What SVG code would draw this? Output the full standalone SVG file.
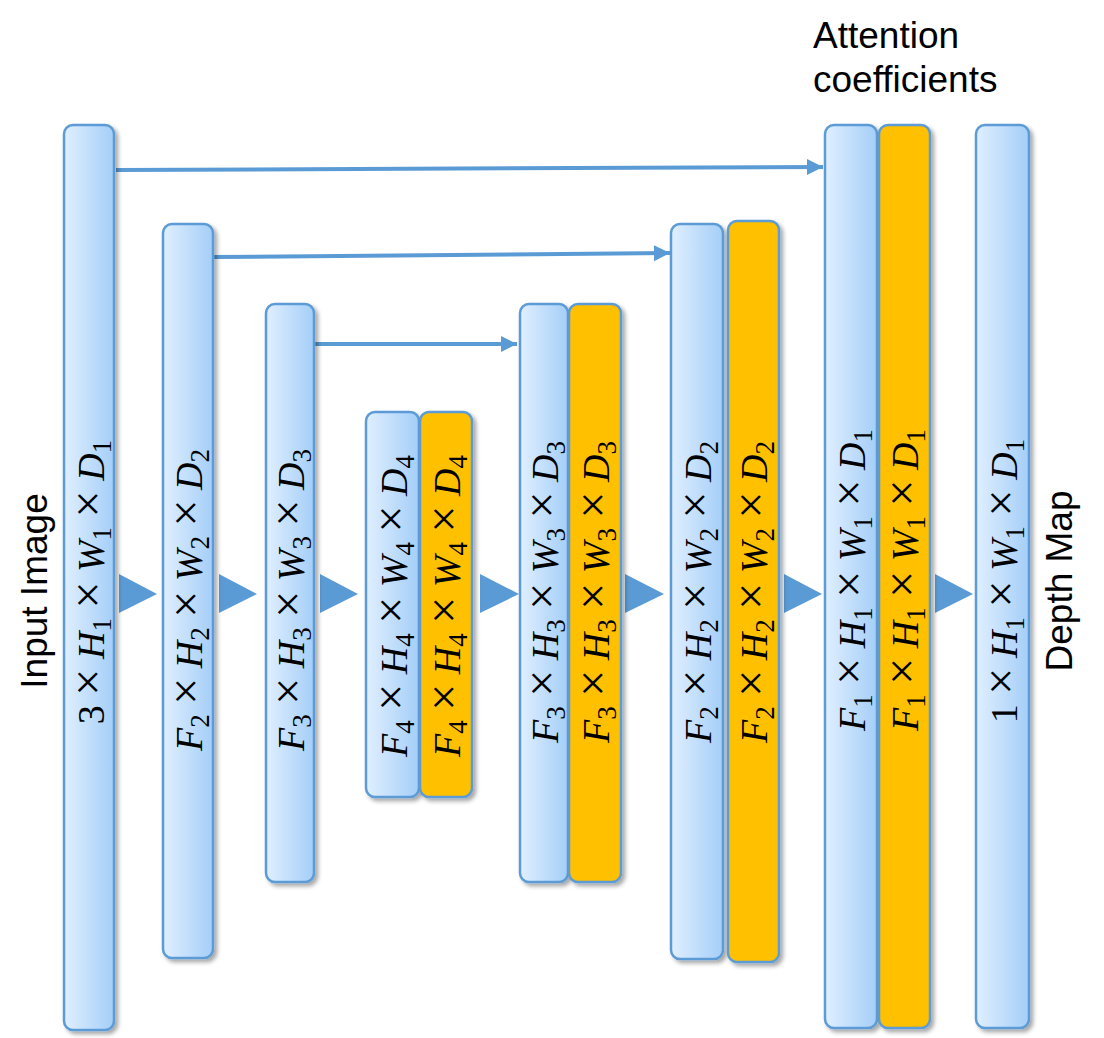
<svg xmlns="http://www.w3.org/2000/svg" width="1104" height="1038" viewBox="0 0 1104 1038">
<defs>
<linearGradient id="blueGrad" x1="0" y1="0" x2="1" y2="0">
<stop offset="0" stop-color="#e0efff"/>
<stop offset="1" stop-color="#a4cef8"/>
</linearGradient>
<filter id="shadow" x="-20%" y="-5%" width="150%" height="115%">
<feDropShadow dx="3" dy="3" stdDeviation="2" flood-color="#000" flood-opacity="0.35"/>
</filter>
<marker id="arrow" markerUnits="userSpaceOnUse" markerWidth="20" markerHeight="20" refX="16" refY="8" orient="auto">
<path d="M0,0 L16,8 L0,16 Z" fill="#5b9bd5"/>
</marker>
<style>
.blue{fill:url(#blueGrad);stroke:#5b9bd5;stroke-width:2.5;filter:url(#shadow)}
.orange{fill:#ffc000;stroke:#5b9bd5;stroke-width:2.5;filter:url(#shadow)}
.tri{fill:#5b9bd5}
.skip{stroke:#5b9bd5;stroke-width:4;fill:none}
.math{font-family:"Liberation Serif","Times New Roman",serif;font-size:38px;fill:#000}
.v{font-style:italic}
.s{font-size:27px}
.x{font-size:48px}
.lbl{font-family:"Liberation Sans",Arial,sans-serif;font-size:37px;fill:#000}
</style>
</defs>
<rect width="1104" height="1038" fill="#fff"/>

<g id="connectors">
<line class="skip" x1="116" y1="170" x2="823" y2="167" marker-end="url(#arrow)"/>
<line class="skip" x1="214" y1="257" x2="670" y2="253" marker-end="url(#arrow)"/>
<line class="skip" x1="314" y1="344" x2="517" y2="344" marker-end="url(#arrow)"/>
<polygon class="tri" points="119,574 157,594 119,613"/>
<polygon class="tri" points="219,574 257,594 219,613"/>
<polygon class="tri" points="320,574 358,594 320,613"/>
<polygon class="tri" points="480,574 519,594 480,613"/>
<polygon class="tri" points="625,574 664,594 625,613"/>
<polygon class="tri" points="784,574 822,594 784,613"/>
<polygon class="tri" points="935,574 973,594 935,613"/>
</g>

<g id="input-label">
<text class="lbl" transform="translate(47,591) rotate(-90)" text-anchor="middle">Input Image</text>
</g>

<g id="enc1">
<rect class="blue" x="64" y="125" width="50" height="905" rx="9"/>
<text class="math" transform="translate(104,582) rotate(-90)" text-anchor="middle">3 <tspan class="x">×</tspan> <tspan class="v">H</tspan><tspan class="s" dy="7">1</tspan><tspan dy="-7"> </tspan><tspan class="x">×</tspan> <tspan class="v">W</tspan><tspan class="s" dy="7">1</tspan><tspan dy="-7"> </tspan><tspan class="x">×</tspan> <tspan class="v">D</tspan><tspan class="s" dy="7">1</tspan></text>
</g>

<g id="enc2">
<rect class="blue" x="163" y="224" width="50" height="734" rx="9"/>
<text class="math" transform="translate(202,600) rotate(-90)" text-anchor="middle"><tspan class="v">F</tspan><tspan class="s" dy="7">2</tspan><tspan dy="-7"> </tspan><tspan class="x">×</tspan> <tspan class="v">H</tspan><tspan class="s" dy="7">2</tspan><tspan dy="-7"> </tspan><tspan class="x">×</tspan> <tspan class="v">W</tspan><tspan class="s" dy="7">2</tspan><tspan dy="-7"> </tspan><tspan class="x">×</tspan> <tspan class="v">D</tspan><tspan class="s" dy="7">2</tspan></text>
</g>

<g id="enc3">
<rect class="blue" x="266" y="304" width="48" height="578" rx="9"/>
<text class="math" transform="translate(304,600) rotate(-90)" text-anchor="middle"><tspan class="v">F</tspan><tspan class="s" dy="7">3</tspan><tspan dy="-7"> </tspan><tspan class="x">×</tspan> <tspan class="v">H</tspan><tspan class="s" dy="7">3</tspan><tspan dy="-7"> </tspan><tspan class="x">×</tspan> <tspan class="v">W</tspan><tspan class="s" dy="7">3</tspan><tspan dy="-7"> </tspan><tspan class="x">×</tspan> <tspan class="v">D</tspan><tspan class="s" dy="7">3</tspan></text>
</g>

<g id="bottleneck">
<rect class="blue" x="366" y="412" width="53" height="385" rx="9"/>
<rect class="orange" x="420" y="412" width="52" height="385" rx="9"/>
<text class="math" transform="translate(407,606) rotate(-90)" text-anchor="middle"><tspan class="v">F</tspan><tspan class="s" dy="7">4</tspan><tspan dy="-7"> </tspan><tspan class="x">×</tspan> <tspan class="v">H</tspan><tspan class="s" dy="7">4</tspan><tspan dy="-7"> </tspan><tspan class="x">×</tspan> <tspan class="v">W</tspan><tspan class="s" dy="7">4</tspan><tspan dy="-7"> </tspan><tspan class="x">×</tspan> <tspan class="v">D</tspan><tspan class="s" dy="7">4</tspan></text>
<text class="math" transform="translate(460,606) rotate(-90)" text-anchor="middle"><tspan class="v">F</tspan><tspan class="s" dy="7">4</tspan><tspan dy="-7"> </tspan><tspan class="x">×</tspan> <tspan class="v">H</tspan><tspan class="s" dy="7">4</tspan><tspan dy="-7"> </tspan><tspan class="x">×</tspan> <tspan class="v">W</tspan><tspan class="s" dy="7">4</tspan><tspan dy="-7"> </tspan><tspan class="x">×</tspan> <tspan class="v">D</tspan><tspan class="s" dy="7">4</tspan></text>
</g>

<g id="dec3">
<rect class="blue" x="520" y="304" width="48" height="578" rx="9"/>
<rect class="orange" x="569" y="304" width="52" height="578" rx="9"/>
<text class="math" transform="translate(558,592) rotate(-90)" text-anchor="middle"><tspan class="v">F</tspan><tspan class="s" dy="7">3</tspan><tspan dy="-7"> </tspan><tspan class="x">×</tspan> <tspan class="v">H</tspan><tspan class="s" dy="7">3</tspan><tspan dy="-7"> </tspan><tspan class="x">×</tspan> <tspan class="v">W</tspan><tspan class="s" dy="7">3</tspan><tspan dy="-7"> </tspan><tspan class="x">×</tspan> <tspan class="v">D</tspan><tspan class="s" dy="7">3</tspan></text>
<text class="math" transform="translate(609,592) rotate(-90)" text-anchor="middle"><tspan class="v">F</tspan><tspan class="s" dy="7">3</tspan><tspan dy="-7"> </tspan><tspan class="x">×</tspan> <tspan class="v">H</tspan><tspan class="s" dy="7">3</tspan><tspan dy="-7"> </tspan><tspan class="x">×</tspan> <tspan class="v">W</tspan><tspan class="s" dy="7">3</tspan><tspan dy="-7"> </tspan><tspan class="x">×</tspan> <tspan class="v">D</tspan><tspan class="s" dy="7">3</tspan></text>
</g>

<g id="dec2">
<rect class="blue" x="671" y="224" width="52" height="735" rx="9"/>
<rect class="orange" x="728" y="221" width="51" height="741" rx="9"/>
<text class="math" transform="translate(711,592) rotate(-90)" text-anchor="middle"><tspan class="v">F</tspan><tspan class="s" dy="7">2</tspan><tspan dy="-7"> </tspan><tspan class="x">×</tspan> <tspan class="v">H</tspan><tspan class="s" dy="7">2</tspan><tspan dy="-7"> </tspan><tspan class="x">×</tspan> <tspan class="v">W</tspan><tspan class="s" dy="7">2</tspan><tspan dy="-7"> </tspan><tspan class="x">×</tspan> <tspan class="v">D</tspan><tspan class="s" dy="7">2</tspan></text>
<text class="math" transform="translate(767,592) rotate(-90)" text-anchor="middle"><tspan class="v">F</tspan><tspan class="s" dy="7">2</tspan><tspan dy="-7"> </tspan><tspan class="x">×</tspan> <tspan class="v">H</tspan><tspan class="s" dy="7">2</tspan><tspan dy="-7"> </tspan><tspan class="x">×</tspan> <tspan class="v">W</tspan><tspan class="s" dy="7">2</tspan><tspan dy="-7"> </tspan><tspan class="x">×</tspan> <tspan class="v">D</tspan><tspan class="s" dy="7">2</tspan></text>
</g>

<g id="dec1">
<rect class="blue" x="825" y="125" width="52" height="903" rx="9"/>
<rect class="orange" x="879" y="125" width="51" height="903" rx="9"/>
<text class="math" transform="translate(865,580) rotate(-90)" text-anchor="middle"><tspan class="v">F</tspan><tspan class="s" dy="7">1</tspan><tspan dy="-7"> </tspan><tspan class="x">×</tspan> <tspan class="v">H</tspan><tspan class="s" dy="7">1</tspan><tspan dy="-7"> </tspan><tspan class="x">×</tspan> <tspan class="v">W</tspan><tspan class="s" dy="7">1</tspan><tspan dy="-7"> </tspan><tspan class="x">×</tspan> <tspan class="v">D</tspan><tspan class="s" dy="7">1</tspan></text>
<text class="math" transform="translate(918,580) rotate(-90)" text-anchor="middle"><tspan class="v">F</tspan><tspan class="s" dy="7">1</tspan><tspan dy="-7"> </tspan><tspan class="x">×</tspan> <tspan class="v">H</tspan><tspan class="s" dy="7">1</tspan><tspan dy="-7"> </tspan><tspan class="x">×</tspan> <tspan class="v">W</tspan><tspan class="s" dy="7">1</tspan><tspan dy="-7"> </tspan><tspan class="x">×</tspan> <tspan class="v">D</tspan><tspan class="s" dy="7">1</tspan></text>
</g>

<g id="attention-label">
<text class="lbl" x="813" y="48">Attention</text>
<text class="lbl" x="813" y="92">coefficients</text>
</g>

<g id="output">
<rect class="blue" x="976" y="125" width="53" height="903" rx="9"/>
<text class="math" transform="translate(1017,581) rotate(-90)" text-anchor="middle">1 <tspan class="x">×</tspan> <tspan class="v">H</tspan><tspan class="s" dy="7">1</tspan><tspan dy="-7"> </tspan><tspan class="x">×</tspan> <tspan class="v">W</tspan><tspan class="s" dy="7">1</tspan><tspan dy="-7"> </tspan><tspan class="x">×</tspan> <tspan class="v">D</tspan><tspan class="s" dy="7">1</tspan></text>
</g>

<g id="depth-label">
<text class="lbl" transform="translate(1072,581) rotate(-90)" text-anchor="middle">Depth Map</text>
</g>
</svg>
